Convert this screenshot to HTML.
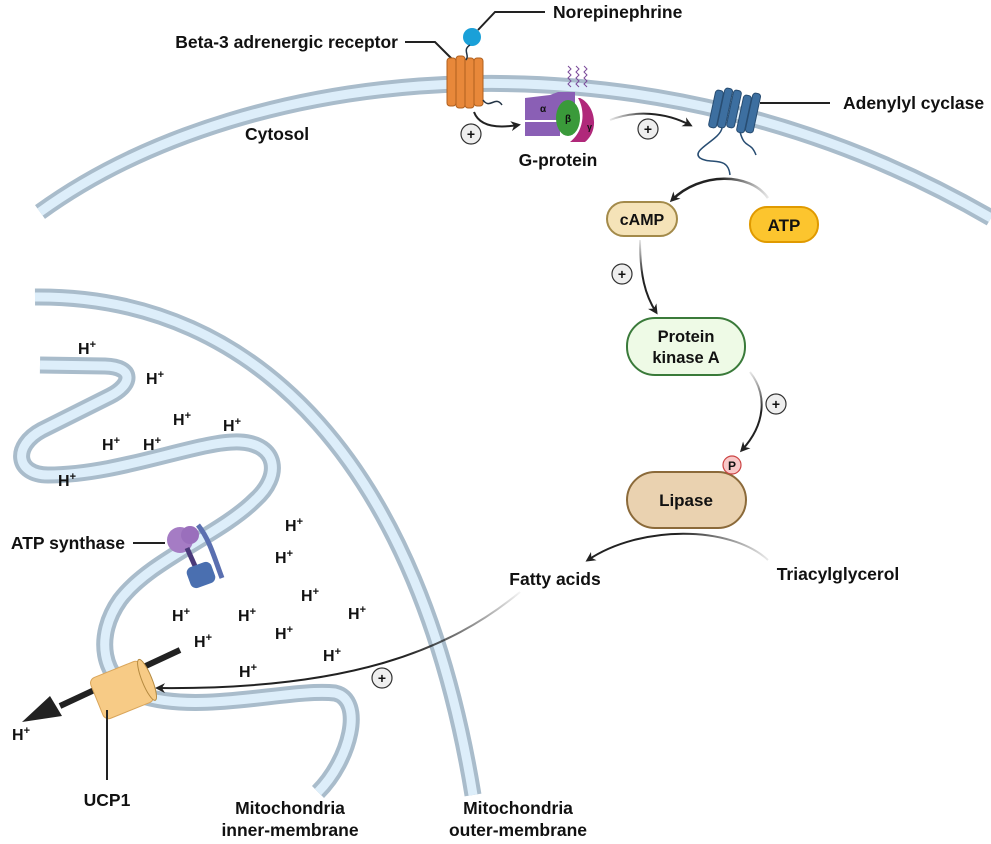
<!DOCTYPE html>
<html><head><meta charset="utf-8"><style>
html,body{margin:0;padding:0;background:#fff}
svg{display:block}
text{font-family:"Liberation Sans",sans-serif;font-weight:bold;fill:#111}
</style></head><body>
<svg width="991" height="844" viewBox="0 0 991 844" xmlns="http://www.w3.org/2000/svg">
<defs>
<marker id="ah" markerWidth="10" markerHeight="10" refX="7" refY="5" orient="auto" markerUnits="userSpaceOnUse"><path d="M0,0 L10,5 L0,10 L3,5 Z" fill="#222"/></marker>
<linearGradient id="g1" x1="0" y1="0" x2="1" y2="0"><stop offset="0" stop-color="#222" stop-opacity="0.1"/><stop offset="0.5" stop-color="#222"/></linearGradient>
<linearGradient id="g2" x1="1" y1="0" x2="0" y2="0"><stop offset="0" stop-color="#222" stop-opacity="0.1"/><stop offset="0.5" stop-color="#222"/></linearGradient>
<linearGradient id="g3" x1="0" y1="0" x2="0" y2="1"><stop offset="0" stop-color="#222" stop-opacity="0.1"/><stop offset="0.5" stop-color="#222"/></linearGradient>
<linearGradient id="g4" x1="1" y1="0" x2="0" y2="1"><stop offset="0" stop-color="#222" stop-opacity="0.05"/><stop offset="0.5" stop-color="#222"/></linearGradient>
</defs>

<g fill="none" stroke-linecap="butt">
<path d="M40,212 C250,60 650,20 991,218" stroke="#a9bccb" stroke-width="17"/>
<path d="M40,212 C250,60 650,20 991,218" stroke="#ddeefa" stroke-width="9"/>
<path d="M35,297 C260,295 420,470 473,795" stroke="#a9bccb" stroke-width="17"/>
<path d="M35,297 C260,295 420,470 473,795" stroke="#ddeefa" stroke-width="9"/>
<path d="M40,365 L105,366 C135,367 132,385 110,396 L42,430 C12,446 16,475 48,475 C120,475 200,440 240,442 C278,444 282,476 255,500 C220,535 150,560 120,600 C95,635 100,680 140,695 C200,715 290,688 335,693 C365,700 350,760 318,792" stroke="#a9bccb" stroke-width="17"/>
<path d="M40,365 L105,366 C135,367 132,385 110,396 L42,430 C12,446 16,475 48,475 C120,475 200,440 240,442 C278,444 282,476 255,500 C220,535 150,560 120,600 C95,635 100,680 140,695 C200,715 290,688 335,693 C365,700 350,760 318,792" stroke="#ddeefa" stroke-width="9"/>
</g>

<polyline points="478,30 495,12 545,12" fill="none" stroke="#222" stroke-width="2"/>
<circle cx="472" cy="37" r="9" fill="#1aa0d8"/>
<text x="553" y="18" font-size="17.5">Norepinephrine</text>
<polyline points="405,42 435,42 455,62" fill="none" stroke="#222" stroke-width="2"/>
<text x="398" y="48" font-size="17.5" text-anchor="end">Beta-3 adrenergic receptor</text>
<g fill="#e8883a" stroke="#b0601f" stroke-width="1">
<rect x="447" y="58" width="9" height="48" rx="3"/>
<rect x="456" y="56" width="9" height="52" rx="3"/>
<rect x="465" y="58" width="9" height="50" rx="3"/>
<rect x="474" y="58" width="9" height="48" rx="3"/>
</g>
<path d="M470,45 C462,50 470,55 466,60 M483,100 C490,110 495,95 502,105" fill="none" stroke="#234" stroke-width="1.5"/>
<g>
<path d="M525,98 L550,95 L558,92 L575,92 L575,110 L560,112 L560,120 L525,120 Z" fill="#8a5fb5"/>
<path d="M525,122 L560,122 L560,136 L525,136 Z" fill="#8a5fb5"/>
<ellipse cx="568" cy="118" rx="12" ry="18" fill="#3a9a3a"/>
<path d="M580,98 C595,105 600,130 585,142 L570,142 C585,130 585,110 578,98 Z" fill="#b0287a"/>
<text x="540" y="112" font-size="10" font-weight="normal" fill="#333">α</text>
<text x="565" y="122" font-size="10" font-weight="normal" fill="#123">β</text>
<text x="587" y="130" font-size="9" font-weight="normal" fill="#fff">γ</text>
<path d="M568,66 l3,3 l-3,3 l3,3 l-3,3 l3,3 l-3,3 l3,3 M576,66 l3,3 l-3,3 l3,3 l-3,3 l3,3 l-3,3 l3,3 M584,66 l3,3 l-3,3 l3,3 l-3,3 l3,3 l-3,3 l3,3" fill="none" stroke="#7a4a9a" stroke-width="1"/>
</g>
<text x="558" y="166" font-size="17.5" text-anchor="middle">G-protein</text>
<path d="M474,112 C480,128 500,128 518,125" fill="none" stroke="#222" stroke-width="2" marker-end="url(#ah)"/>
<path d="M610,120 C635,110 665,112 690,125" fill="none" stroke="url(#g1)" stroke-width="2" marker-end="url(#ah)"/>
<g font-size="14"><circle cx="471" cy="134" r="10" fill="#eee" stroke="#333" stroke-width="1.2"/><text x="471" y="139" text-anchor="middle">+</text>
<circle cx="648" cy="129" r="10" fill="#eee" stroke="#333" stroke-width="1.2"/><text x="648" y="134" text-anchor="middle">+</text></g>
<g fill="#3d6fa0" stroke="#284d72" stroke-width="1">
<rect x="712" y="90" width="8" height="38" rx="3" transform="rotate(12 716 109)"/>
<rect x="721" y="88" width="8" height="40" rx="3" transform="rotate(12 725 108)"/>
<rect x="730" y="90" width="8" height="38" rx="3" transform="rotate(12 734 109)"/>
<rect x="740" y="95" width="8" height="38" rx="3" transform="rotate(12 744 114)"/>
<rect x="749" y="93" width="8" height="40" rx="3" transform="rotate(12 753 113)"/>
</g>
<path d="M722,128 C720,140 690,150 700,158 C710,165 728,155 730,175 M740,132 C745,150 750,140 756,155" fill="none" stroke="#284d72" stroke-width="1.5"/>
<line x1="760" y1="103" x2="830" y2="103" stroke="#222" stroke-width="2"/>
<text x="843" y="109" font-size="17.5">Adenylyl cyclase</text>
<text x="245" y="140" font-size="17.5">Cytosol</text>
<path d="M768,198 C750,172 700,172 672,200" fill="none" stroke="url(#g2)" stroke-width="2.5" marker-end="url(#ah)"/>
<rect x="607" y="202" width="70" height="34" rx="17" fill="#f5e3b8" stroke="#a38a4a" stroke-width="2"/>
<text x="642" y="225" font-size="16" text-anchor="middle">cAMP</text>
<rect x="750" y="207" width="68" height="35" rx="17" fill="#fcc52e" stroke="#e09a00" stroke-width="2"/>
<text x="784" y="231" font-size="17" text-anchor="middle">ATP</text>
<path d="M640,240 C640,275 645,295 656,312" fill="none" stroke="url(#g3)" stroke-width="2" marker-end="url(#ah)"/>
<g font-size="14"><circle cx="622" cy="274" r="10" fill="#eee" stroke="#333" stroke-width="1.2"/><text x="622" y="279" text-anchor="middle">+</text></g>
<rect x="627" y="318" width="118" height="57" rx="28" fill="#eefae6" stroke="#3a7a3a" stroke-width="2"/>
<text x="686" y="342" font-size="16.5" text-anchor="middle">Protein</text>
<text x="686" y="363" font-size="16.5" text-anchor="middle">kinase A</text>
<path d="M750,372 C768,395 765,425 742,450" fill="none" stroke="url(#g3)" stroke-width="2" marker-end="url(#ah)"/>
<g font-size="14"><circle cx="776" cy="404" r="10" fill="#eee" stroke="#333" stroke-width="1.2"/><text x="776" y="409" text-anchor="middle">+</text></g>
<rect x="627" y="472" width="119" height="56" rx="28" fill="#ead2b0" stroke="#8b6a3a" stroke-width="2"/>
<text x="686" y="506" font-size="17" text-anchor="middle">Lipase</text>
<circle cx="732" cy="465" r="9" fill="#f8c8c8" stroke="#c44" stroke-width="1.2"/>
<text x="732" y="470" font-size="12" text-anchor="middle">P</text>
<path d="M768,560 C730,525 640,525 588,560" fill="none" stroke="url(#g2)" stroke-width="2" marker-end="url(#ah)"/>
<text x="555" y="585" font-size="17.5" text-anchor="middle">Fatty acids</text>
<text x="838" y="580" font-size="17.5" text-anchor="middle">Triacylglycerol</text>
<path d="M520,592 C450,650 350,690 158,688" fill="none" stroke="url(#g4)" stroke-width="2" marker-end="url(#ah)"/>
<g font-size="14"><circle cx="382" cy="678" r="10" fill="#eee" stroke="#333" stroke-width="1.2"/><text x="382" y="683" text-anchor="middle">+</text></g>
<line x1="133" y1="543" x2="165" y2="543" stroke="#222" stroke-width="2"/>
<text x="125" y="549" font-size="17.5" text-anchor="end">ATP synthase</text>
<path d="M198,525 C210,540 215,560 222,578" fill="none" stroke="#5a6fb0" stroke-width="5"/>
<circle cx="180" cy="540" r="13" fill="#a57cc4"/>
<circle cx="190" cy="535" r="9" fill="#9a6fbc"/>
<line x1="187" y1="548" x2="195" y2="566" stroke="#4a3a7a" stroke-width="5"/>
<rect x="188" y="564" width="26" height="22" rx="6" fill="#4a6fb0" transform="rotate(-20 201 575)"/>
<line x1="180" y1="650" x2="60" y2="706" stroke="#222" stroke-width="6"/>
<polygon points="22,722 50,696 62,716" fill="#222"/>
<g transform="rotate(-22 122 690)">
<rect x="95" y="668" width="54" height="44" rx="6" fill="#f7cb86" stroke="#d9a55a"/>
<ellipse cx="149" cy="690" rx="5" ry="22" fill="#f7cb86" stroke="#b58a40"/>
</g>
<line x1="107" y1="710" x2="107" y2="780" stroke="#222" stroke-width="2"/>
<text x="107" y="806" font-size="17.5" text-anchor="middle">UCP1</text>
<text x="12" y="740" font-size="16">H<tspan font-size="11" dy="-6">+</tspan></text>
<text x="290" y="814" font-size="17.5" text-anchor="middle">Mitochondria</text>
<text x="290" y="836" font-size="17.5" text-anchor="middle">inner-membrane</text>
<text x="518" y="814" font-size="17.5" text-anchor="middle">Mitochondria</text>
<text x="518" y="836" font-size="17.5" text-anchor="middle">outer-membrane</text>
<g font-size="16">
<text x="78" y="354">H<tspan font-size="11" dy="-6">+</tspan></text>
<text x="146" y="384">H<tspan font-size="11" dy="-6">+</tspan></text>
<text x="173" y="425">H<tspan font-size="11" dy="-6">+</tspan></text>
<text x="223" y="431">H<tspan font-size="11" dy="-6">+</tspan></text>
<text x="102" y="450">H<tspan font-size="11" dy="-6">+</tspan></text>
<text x="143" y="450">H<tspan font-size="11" dy="-6">+</tspan></text>
<text x="58" y="486">H<tspan font-size="11" dy="-6">+</tspan></text>
<text x="285" y="531">H<tspan font-size="11" dy="-6">+</tspan></text>
<text x="275" y="563">H<tspan font-size="11" dy="-6">+</tspan></text>
<text x="301" y="601">H<tspan font-size="11" dy="-6">+</tspan></text>
<text x="172" y="621">H<tspan font-size="11" dy="-6">+</tspan></text>
<text x="238" y="621">H<tspan font-size="11" dy="-6">+</tspan></text>
<text x="348" y="619">H<tspan font-size="11" dy="-6">+</tspan></text>
<text x="194" y="647">H<tspan font-size="11" dy="-6">+</tspan></text>
<text x="275" y="639">H<tspan font-size="11" dy="-6">+</tspan></text>
<text x="323" y="661">H<tspan font-size="11" dy="-6">+</tspan></text>
<text x="239" y="677">H<tspan font-size="11" dy="-6">+</tspan></text>
</g>
</svg>
</body></html>
